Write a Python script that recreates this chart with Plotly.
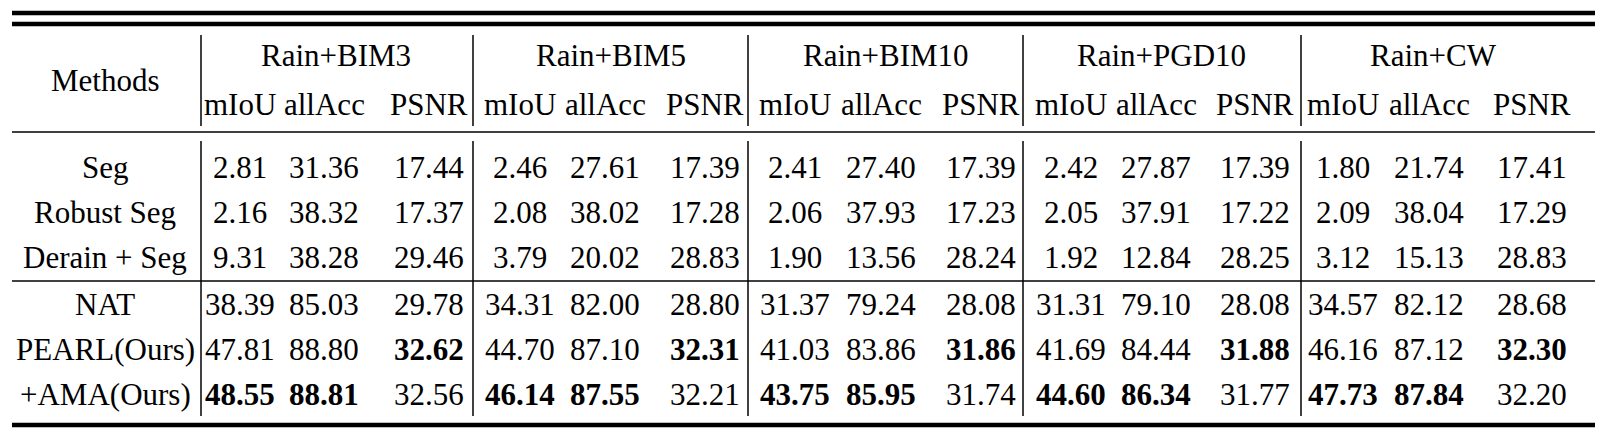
import plotly.graph_objects as go

# ---------------------------------------------------------------------------
# Table data
# ---------------------------------------------------------------------------
groups = ["Rain+BIM3", "Rain+BIM5", "Rain+BIM10", "Rain+PGD10", "Rain+CW"]
metrics = ["mIoU", "allAcc", "PSNR"]
methods = ["Seg", "Robust Seg", "Derain + Seg", "NAT", "PEARL(Ours)", "+AMA(Ours)"]

seg = [2.81, 31.36, 17.44, 2.46, 27.61, 17.39, 2.41, 27.40, 17.39, 2.42, 27.87, 17.39, 1.80, 21.74, 17.41]
robust_seg = [2.16, 38.32, 17.37, 2.08, 38.02, 17.28, 2.06, 37.93, 17.23, 2.05, 37.91, 17.22, 2.09, 38.04, 17.29]
derain_seg = [9.31, 38.28, 29.46, 3.79, 20.02, 28.83, 1.90, 13.56, 28.24, 1.92, 12.84, 28.25, 3.12, 15.13, 28.83]
nat = [38.39, 85.03, 29.78, 34.31, 82.00, 28.80, 31.37, 79.24, 28.08, 31.31, 79.10, 28.08, 34.57, 82.12, 28.68]
pearl = [47.81, 88.80, 32.62, 44.70, 87.10, 32.31, 41.03, 83.86, 31.86, 41.69, 84.44, 31.88, 46.16, 87.12, 32.30]
ama = [48.55, 88.81, 32.56, 46.14, 87.55, 32.21, 43.75, 85.95, 31.74, 44.60, 86.34, 31.77, 47.73, 87.84, 32.20]
rows = [seg, robust_seg, derain_seg, nat, pearl, ama]

# ---------------------------------------------------------------------------
# Layout (pixel coordinates, y downwards)
# ---------------------------------------------------------------------------
W, H = 1603, 433
FONT = "Liberation Serif"
SIZE = 31
col_x = [232, 316, 421, 512, 597, 697, 787, 873, 973, 1063, 1148, 1247, 1335, 1421, 1524]
group_x = [328, 603, 878, 1153, 1425]
vlines = [193, 465, 740, 1015, 1293]
row_y = [159, 204, 249, 296, 341, 386]

fig = go.Figure()
ann = []


def text(x, y, s, bold=False):
    ann.append(dict(x=x, y=y, text=f"<b>{s}</b>" if bold else s, showarrow=False,
                    xref="x", yref="y", font=dict(family=FONT, size=SIZE, color="black")))


text(97, 72, "Methods")
for gx, g in zip(group_x, groups):
    text(gx, 47, g)
for i, cx in enumerate(col_x):
    text(cx, 96, metrics[i % 3])

col_max = [max(r[j] for r in rows) for j in range(len(col_x))]
for ry, name, vals in zip(row_y, methods, rows):
    text(97, ry, name)
    for j, v in enumerate(vals):
        text(col_x[j], ry, f"{v:.2f}", bold=(v == col_max[j]))

shapes = []


def hline(y, w):
    shapes.append(dict(type="line", x0=4, x1=W - 4, y0=y, y1=y, xref="x", yref="y",
                       line=dict(color="black", width=w)))


hline(5, 4.5)
hline(16, 4.5)
hline(124, 1.5)
hline(273, 1.5)
hline(417, 4.5)
hline(428, 4.5)
for vx in vlines:
    for y0, y1 in [(27, 118), (133, 408)]:
        shapes.append(dict(type="line", x0=vx, x1=vx, y0=y0, y1=y1, xref="x", yref="y",
                           line=dict(color="black", width=1.5)))

fig.update_layout(width=W, height=H, margin=dict(l=0, r=0, t=0, b=0),
                  plot_bgcolor="white", paper_bgcolor="white",
                  annotations=ann, shapes=shapes, showlegend=False)
fig.update_xaxes(range=[0, W], visible=False)
fig.update_yaxes(range=[H, 0], visible=False)

fig.write_html("out.html")
